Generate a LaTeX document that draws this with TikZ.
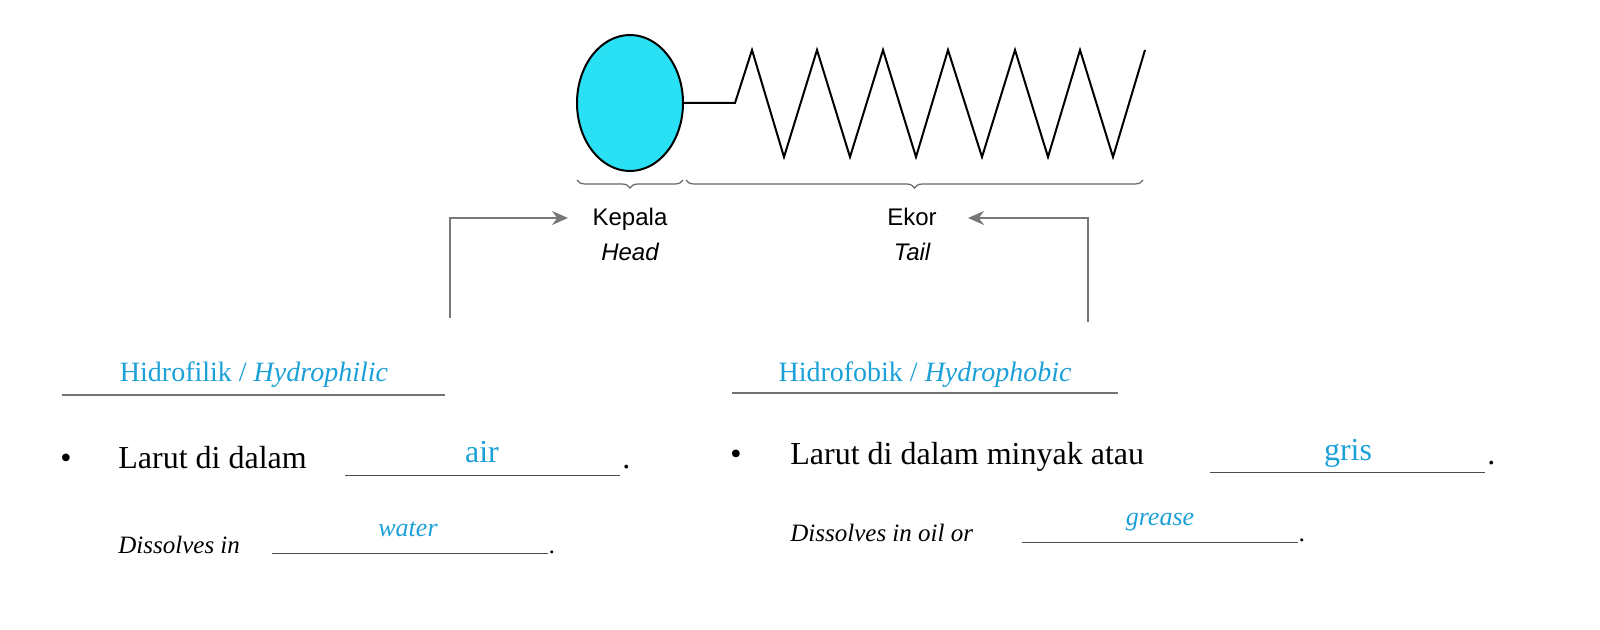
\documentclass[tikz,border=0pt]{standalone}
\usepackage{fontspec}
\setmainfont{Liberation Serif}
\newfontfamily\lsans{Liberation Sans}
\usetikzlibrary{decorations.pathreplacing,arrows.meta,shapes.geometric}
\definecolor{headc}{HTML}{29E0F5}
\definecolor{ansc}{HTML}{1BA0D8}
\definecolor{arrc}{HTML}{777777}
\tikzset{
  lbl/.style={font=\lsans\fontsize{12}{14}\selectfont, anchor=base},
  heading/.style={text=ansc, font=\fontsize{14}{17}\selectfont, anchor=base, inner sep=0},
  body/.style={font=\fontsize{16}{19}\selectfont, anchor=base west, inner sep=0},
  bodyit/.style={font=\itshape\fontsize{12.5}{15}\selectfont, anchor=base west, inner sep=0},
  ans/.style={text=ansc, font=\fontsize{16}{19}\selectfont, anchor=base, inner sep=0},
  ansit/.style={text=ansc, font=\itshape\fontsize{13}{16}\selectfont, anchor=base, inner sep=0},
  blank/.style={draw=black!70, line width=0.5pt},
  rule/.style={draw=black!55, line width=0.6pt},
  conn/.style={draw=arrc, line width=1pt, -{Stealth[length=8pt,width=7pt]}},
  brc/.style={draw=black!60, line width=0.6pt, decorate, decoration={brace, mirror, amplitude=4pt}}
}
\begin{document}
\begin{tikzpicture}[x=0.5pt,y=-0.5pt]
\useasboundingbox (0,0) rectangle (1600,630);
% molecule
\node[draw, line width=1pt, fill=headc, ellipse, minimum width=53pt, minimum height=68pt, inner sep=0] (head) at (630,103) {};
\coordinate (st) at (735,103);
\draw[line width=1pt] (head.east) -- (st) -- (752,50) -- (784,157) -- (817,50) -- (850,157) -- (883,50) -- (916,157) -- (948,50) -- (982,157) -- (1015,50) -- (1048,157) -- (1080,50) -- (1113,157) -- (1145,50);
% braces
\coordinate (b1) at (577,180); \coordinate (b2) at (683,180);
\coordinate (b3) at (686,180); \coordinate (b4) at (1143,180);
\draw[brc] (b1) -- (b2);
\draw[brc] (b3) -- (b4);
% labels
\node[lbl] (kep) at (630,226) {Kepala};
\node[lbl, font=\lsans\itshape\fontsize{12}{14}\selectfont] (hd) at (630,261) {Head};
\node[lbl] (ek) at (912,226) {Ekor};
\node[lbl, font=\lsans\itshape\fontsize{12}{14}\selectfont] (tl) at (912,261) {Tail};
% connectors
\coordinate (l0) at (450,318); \coordinate (l1) at (450,218); \coordinate (l2) at (568,218);
\coordinate (r0) at (1088,322); \coordinate (r1) at (1088,218); \coordinate (r2) at (968,218);
\draw[conn] (l0) -- (l1) -- (l2);
\draw[conn] (r0) -- (r1) -- (r2);
% headings
\node[heading] (h1) at (254,382) {Hidrofilik / \textit{Hydrophilic}};
\coordinate (u1a) at (62,395); \coordinate (u1b) at (445,395);
\draw[rule] (u1a) -- (u1b);
\node[heading] (h2) at (925,382) {Hidrofobik / \textit{Hydrophobic}};
\coordinate (u2a) at (732,393); \coordinate (u2b) at (1118,393);
\draw[rule] (u2a) -- (u2b);
% left body
\node[body] (bl) at (60,468) {\textbullet};
\node[body] (t1) at (118,468) {Larut di dalam};
\coordinate (a1) at (345,475); \coordinate (a2) at (620,475);
\draw[blank] (a1) -- (a2);
\node[body] (d1) at (622,468) {.};
\node[ans] (air) at (482,462) {air};
\node[bodyit] (t2) at (118,553) {Dissolves in};
\coordinate (c1) at (272,553); \coordinate (c2) at (548,553);
\draw[blank] (c1) -- (c2);
\node[bodyit] (d2) at (549,553) {.};
\node[ansit] (wat) at (408,536) {water};
% right body
\node[body] (br) at (730,465) {\textbullet};
\node[body] (t3) at (790,465) {Larut di dalam minyak atau};
\coordinate (e1) at (1210,472); \coordinate (e2) at (1485,472);
\draw[blank] (e1) -- (e2);
\node[body] (d3) at (1487,465) {.};
\node[ans] (gris) at (1348,460) {gris};
\node[bodyit] (t4) at (790,541) {Dissolves in oil or};
\coordinate (f1) at (1022,542); \coordinate (f2) at (1298,542);
\draw[blank] (f1) -- (f2);
\node[bodyit] (d4) at (1299,541) {.};
\node[ansit] (gr) at (1160,525) {grease};
\end{tikzpicture}
\end{document}
